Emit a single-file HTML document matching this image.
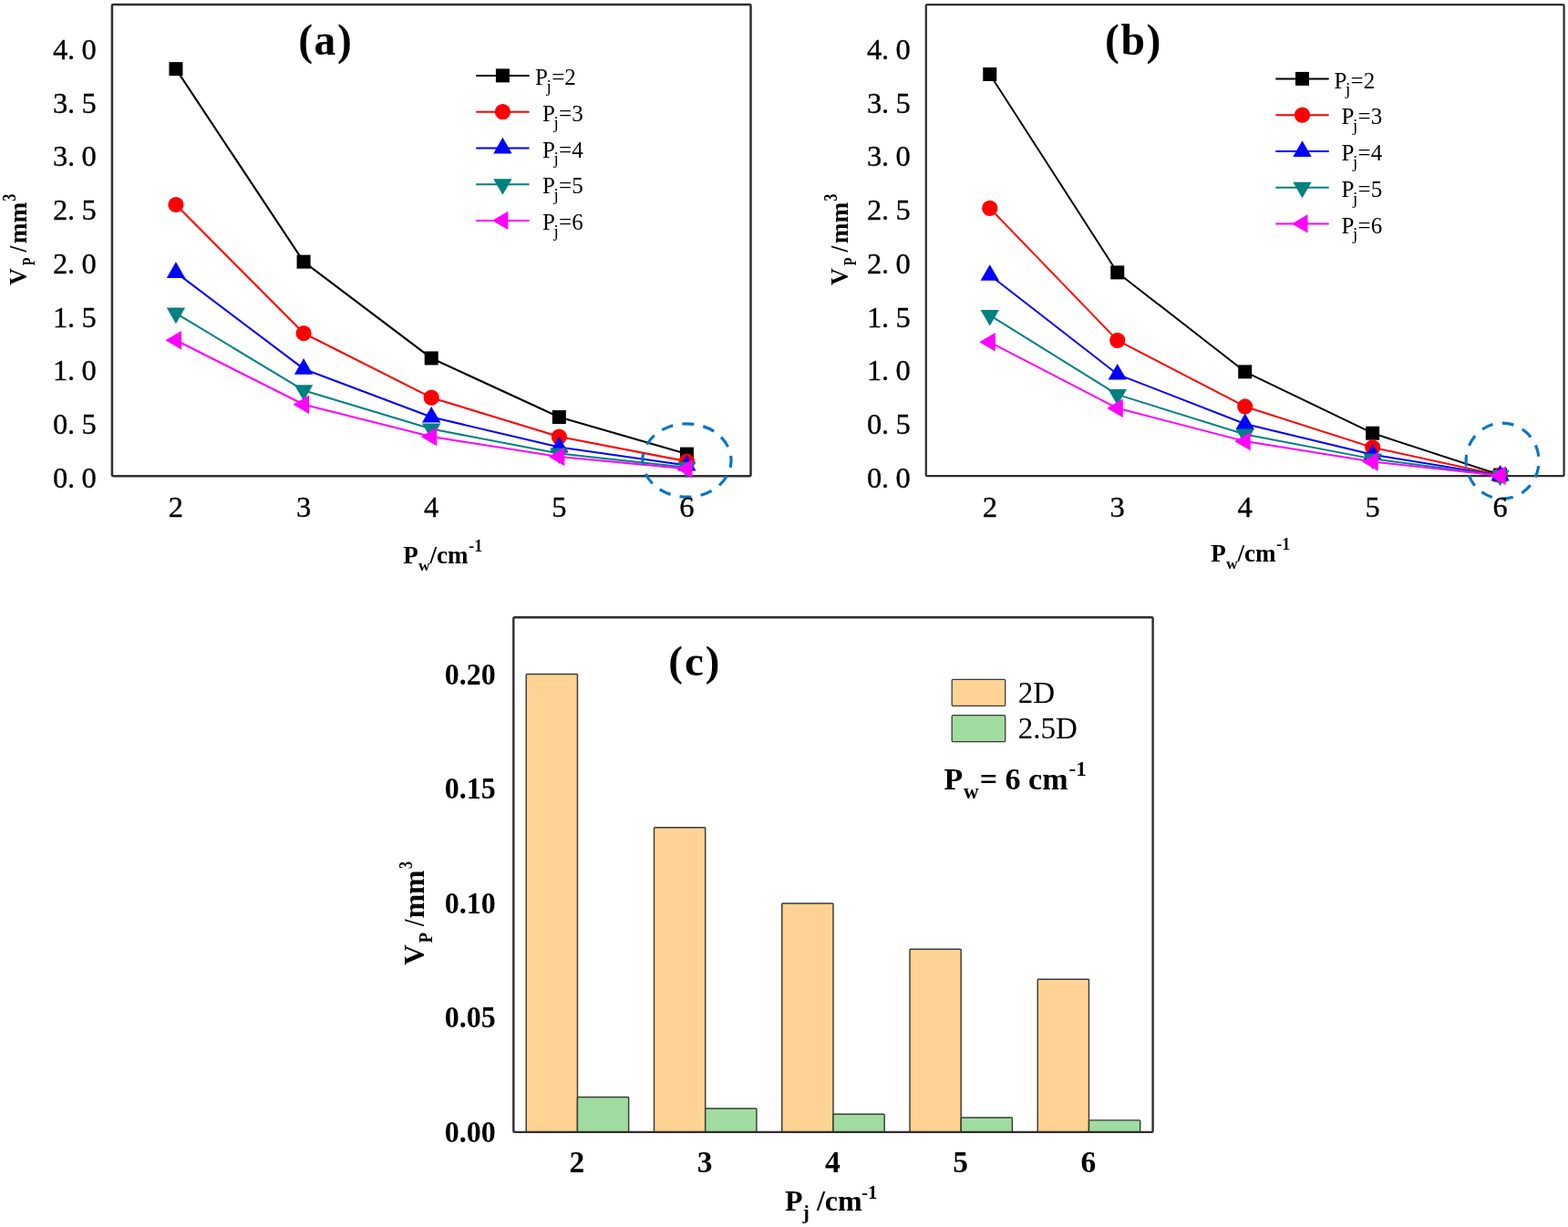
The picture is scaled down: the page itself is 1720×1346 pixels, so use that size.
<!DOCTYPE html>
<html lang="en">
<head>
<meta charset="utf-8">
<title>Figure: V_P versus P_w and P_j</title>
<style>
html, body { margin: 0; padding: 0; background: #fff; }
body { width: 1720px; height: 1346px; overflow: hidden; font-family: "Liberation Serif", serif; }
svg { display: block; }
</style>
</head>
<body>
<svg width="1720" height="1346" viewBox="0 0 1720 1346" role="img" aria-label="Pore volume versus P_w and P_j">
<rect width="1720" height="1346" fill="#fff"/>
<g id="panel-a">
<rect x="122.90" y="5.10" width="700.60" height="517.10" rx="1.2" fill="none" stroke="#2e2e2e" stroke-width="2.5" stroke-linejoin="round"/>
<polyline points="192.96,75.61 333.08,287.15 473.20,392.93 613.32,457.56 753.44,498.11" fill="none" stroke="#000000" stroke-width="2.1" stroke-linejoin="round"/>
<rect x="185.46" y="68.11" width="15.00" height="15.00" fill="#000000"/>
<rect x="325.58" y="279.65" width="15.00" height="15.00" fill="#000000"/>
<rect x="465.70" y="385.43" width="15.00" height="15.00" fill="#000000"/>
<rect x="605.82" y="450.06" width="15.00" height="15.00" fill="#000000"/>
<rect x="745.94" y="490.61" width="15.00" height="15.00" fill="#000000"/>
<polyline points="192.96,224.51 333.08,365.54 473.20,436.17 613.32,479.07 753.44,506.10" fill="none" stroke="#ff0000" stroke-width="2.1" stroke-linejoin="round"/>
<circle cx="192.96" cy="224.51" r="8.60" fill="#ff0000"/>
<circle cx="333.08" cy="365.54" r="8.60" fill="#ff0000"/>
<circle cx="473.20" cy="436.17" r="8.60" fill="#ff0000"/>
<circle cx="613.32" cy="479.07" r="8.60" fill="#ff0000"/>
<circle cx="753.44" cy="506.10" r="8.60" fill="#ff0000"/>
<polyline points="192.96,298.91 333.08,404.68 473.20,457.56 613.32,490.47 753.44,510.45" fill="none" stroke="#0000ff" stroke-width="2.1" stroke-linejoin="round"/>
<polygon points="192.96,287.31 203.16,304.91 182.76,304.91" fill="#0000ff"/>
<polygon points="333.08,393.08 343.28,410.68 322.88,410.68" fill="#0000ff"/>
<polygon points="473.20,445.96 483.40,463.56 463.00,463.56" fill="#0000ff"/>
<polygon points="613.32,478.87 623.52,496.47 603.12,496.47" fill="#0000ff"/>
<polygon points="753.44,498.85 763.64,516.45 743.24,516.45" fill="#0000ff"/>
<polyline points="192.96,343.57 333.08,428.18 473.20,470.49 613.32,497.52 753.44,512.80" fill="none" stroke="#008080" stroke-width="2.1" stroke-linejoin="round"/>
<polygon points="192.96,355.17 203.16,337.57 182.76,337.57" fill="#008080"/>
<polygon points="333.08,439.78 343.28,422.18 322.88,422.18" fill="#008080"/>
<polygon points="473.20,482.09 483.40,464.49 463.00,464.49" fill="#008080"/>
<polygon points="613.32,509.12 623.52,491.52 603.12,491.52" fill="#008080"/>
<polygon points="753.44,524.40 763.64,506.80 743.24,506.80" fill="#008080"/>
<polyline points="192.96,373.30 333.08,443.81 473.20,479.07 613.32,501.05 753.44,514.21" fill="none" stroke="#ff00ff" stroke-width="2.1" stroke-linejoin="round"/>
<polygon points="181.36,373.30 198.96,363.10 198.96,383.50" fill="#ff00ff"/>
<polygon points="321.48,443.81 339.08,433.61 339.08,454.01" fill="#ff00ff"/>
<polygon points="461.60,479.07 479.20,468.87 479.20,489.27" fill="#ff00ff"/>
<polygon points="601.72,501.05 619.32,490.85 619.32,511.25" fill="#ff00ff"/>
<polygon points="741.84,514.21 759.44,504.01 759.44,524.41" fill="#ff00ff"/>
<ellipse cx="753.4" cy="505.0" rx="48.6" ry="40.2" pathLength="120" fill="none" stroke="#0a74c4" stroke-width="3.2" stroke-dasharray="5.60 4.40" stroke-dashoffset="2.20"/>
<text x="66.10 78.10 97.60" y="534.90" font-family="&quot;Liberation Serif&quot;, serif" font-size="32.5" text-anchor="middle" fill="#000" stroke="#000" stroke-width="0.35">0.0</text>
<text x="66.10 78.10 97.60" y="476.14" font-family="&quot;Liberation Serif&quot;, serif" font-size="32.5" text-anchor="middle" fill="#000" stroke="#000" stroke-width="0.35">0.5</text>
<text x="66.10 78.10 97.60" y="417.38" font-family="&quot;Liberation Serif&quot;, serif" font-size="32.5" text-anchor="middle" fill="#000" stroke="#000" stroke-width="0.35">1.0</text>
<text x="66.10 78.10 97.60" y="358.62" font-family="&quot;Liberation Serif&quot;, serif" font-size="32.5" text-anchor="middle" fill="#000" stroke="#000" stroke-width="0.35">1.5</text>
<text x="66.10 78.10 97.60" y="299.85" font-family="&quot;Liberation Serif&quot;, serif" font-size="32.5" text-anchor="middle" fill="#000" stroke="#000" stroke-width="0.35">2.0</text>
<text x="66.10 78.10 97.60" y="241.09" font-family="&quot;Liberation Serif&quot;, serif" font-size="32.5" text-anchor="middle" fill="#000" stroke="#000" stroke-width="0.35">2.5</text>
<text x="66.10 78.10 97.60" y="182.33" font-family="&quot;Liberation Serif&quot;, serif" font-size="32.5" text-anchor="middle" fill="#000" stroke="#000" stroke-width="0.35">3.0</text>
<text x="66.10 78.10 97.60" y="123.57" font-family="&quot;Liberation Serif&quot;, serif" font-size="32.5" text-anchor="middle" fill="#000" stroke="#000" stroke-width="0.35">3.5</text>
<text x="66.10 78.10 97.60" y="64.81" font-family="&quot;Liberation Serif&quot;, serif" font-size="32.5" text-anchor="middle" fill="#000" stroke="#000" stroke-width="0.35">4.0</text>
<text x="192.96" y="566.90" font-family="&quot;Liberation Serif&quot;, serif" font-size="32.5" text-anchor="middle" fill="#000" stroke="#000" stroke-width="0.35">2</text>
<text x="333.08" y="566.90" font-family="&quot;Liberation Serif&quot;, serif" font-size="32.5" text-anchor="middle" fill="#000" stroke="#000" stroke-width="0.35">3</text>
<text x="473.20" y="566.90" font-family="&quot;Liberation Serif&quot;, serif" font-size="32.5" text-anchor="middle" fill="#000" stroke="#000" stroke-width="0.35">4</text>
<text x="613.32" y="566.90" font-family="&quot;Liberation Serif&quot;, serif" font-size="32.5" text-anchor="middle" fill="#000" stroke="#000" stroke-width="0.35">5</text>
<text x="753.44" y="566.90" font-family="&quot;Liberation Serif&quot;, serif" font-size="32.5" text-anchor="middle" fill="#000" stroke="#000" stroke-width="0.35">6</text>
<text x="357.30" y="59.9" font-family="&quot;Liberation Serif&quot;, serif" font-size="47.5" font-weight="bold" letter-spacing="1.6" text-anchor="middle">(a)</text>
<line x1="522.1999999999999" y1="82.90" x2="580.6" y2="82.90" stroke="#000000" stroke-width="2.0"/>
<rect x="543.90" y="75.40" width="15.00" height="15.00" fill="#000000"/>
<text x="587.00" y="93.20" font-family="&quot;Liberation Serif&quot;, serif" font-size="25">P<tspan dy="7.6" dx="-1.3" font-size="19">j</tspan><tspan dy="-7.6" dx="0.3">=2</tspan></text>
<line x1="522.1999999999999" y1="122.65" x2="580.6" y2="122.65" stroke="#ff0000" stroke-width="2.0"/>
<circle cx="551.40" cy="122.65" r="8.60" fill="#ff0000"/>
<text x="594.90" y="132.95" font-family="&quot;Liberation Serif&quot;, serif" font-size="25">P<tspan dy="7.6" dx="-1.3" font-size="19">j</tspan><tspan dy="-7.6" dx="0.3">=3</tspan></text>
<line x1="522.1999999999999" y1="162.40" x2="580.6" y2="162.40" stroke="#0000ff" stroke-width="2.0"/>
<polygon points="551.40,150.80 561.60,168.40 541.20,168.40" fill="#0000ff"/>
<text x="594.90" y="172.70" font-family="&quot;Liberation Serif&quot;, serif" font-size="25">P<tspan dy="7.6" dx="-1.3" font-size="19">j</tspan><tspan dy="-7.6" dx="0.3">=4</tspan></text>
<line x1="522.1999999999999" y1="202.15" x2="580.6" y2="202.15" stroke="#008080" stroke-width="2.0"/>
<polygon points="551.40,213.75 561.60,196.15 541.20,196.15" fill="#008080"/>
<text x="594.90" y="212.45" font-family="&quot;Liberation Serif&quot;, serif" font-size="25">P<tspan dy="7.6" dx="-1.3" font-size="19">j</tspan><tspan dy="-7.6" dx="0.3">=5</tspan></text>
<line x1="522.1999999999999" y1="241.90" x2="580.6" y2="241.90" stroke="#ff00ff" stroke-width="2.0"/>
<polygon points="539.80,241.90 557.40,231.70 557.40,252.10" fill="#ff00ff"/>
<text x="594.90" y="252.20" font-family="&quot;Liberation Serif&quot;, serif" font-size="25">P<tspan dy="7.6" dx="-1.3" font-size="19">j</tspan><tspan dy="-7.6" dx="0.3">=6</tspan></text>
<g transform="translate(29.0,312.75) rotate(-90)" font-family="&quot;Liberation Serif&quot;, serif" font-weight="bold"><text transform="translate(-0.29,0) scale(0.97,1)" font-size="27">V</text><text transform="translate(21.56,9.3) scale(0.74,1)" font-size="19">P</text><text transform="translate(36.34,0) scale(0.9,1)" font-size="27">/</text><text transform="translate(45.56,0) scale(1.0,1)" font-size="27.3">mm</text><text transform="translate(92.09,-11.6) scale(0.8,1)" font-size="20">3</text></g>
<text x="442.3" y="618.4" font-family="&quot;Liberation Serif&quot;, serif" font-size="27" font-weight="bold">P<tspan dy="7.8" dx="0.3" font-size="17.5">w</tspan><tspan dy="-7.8" dx="-0.2">/cm</tspan><tspan dy="-13.4" dx="0.8" font-size="18">-1</tspan></text>
</g>
<g id="panel-b">
<rect x="1015.80" y="5.10" width="699.80" height="517.10" rx="1.2" fill="none" stroke="#2e2e2e" stroke-width="2.25" stroke-linejoin="round"/>
<polyline points="1085.78,81.49 1225.74,298.91 1365.70,407.85 1505.66,475.19 1645.62,521.02" fill="none" stroke="#000000" stroke-width="1.95" stroke-linejoin="round"/>
<rect x="1078.28" y="73.99" width="15.00" height="15.00" fill="#000000"/>
<rect x="1218.24" y="291.41" width="15.00" height="15.00" fill="#000000"/>
<rect x="1358.20" y="400.35" width="15.00" height="15.00" fill="#000000"/>
<rect x="1498.16" y="467.69" width="15.00" height="15.00" fill="#000000"/>
<rect x="1638.12" y="513.52" width="15.00" height="15.00" fill="#000000"/>
<polyline points="1085.78,228.39 1225.74,373.34 1365.70,445.97 1505.66,490.86 1645.62,521.42" fill="none" stroke="#ff0000" stroke-width="1.95" stroke-linejoin="round"/>
<circle cx="1085.78" cy="228.39" r="8.60" fill="#ff0000"/>
<circle cx="1225.74" cy="373.34" r="8.60" fill="#ff0000"/>
<circle cx="1365.70" cy="445.97" r="8.60" fill="#ff0000"/>
<circle cx="1505.66" cy="490.86" r="8.60" fill="#ff0000"/>
<circle cx="1645.62" cy="521.42" r="8.60" fill="#ff0000"/>
<polyline points="1085.78,301.84 1225.74,410.55 1365.70,465.03 1505.66,498.70 1645.62,521.61" fill="none" stroke="#0000ff" stroke-width="1.95" stroke-linejoin="round"/>
<polygon points="1085.78,290.24 1095.98,307.84 1075.58,307.84" fill="#0000ff"/>
<polygon points="1225.74,398.95 1235.94,416.55 1215.54,416.55" fill="#0000ff"/>
<polygon points="1365.70,453.43 1375.90,471.03 1355.50,471.03" fill="#0000ff"/>
<polygon points="1505.66,487.10 1515.86,504.70 1495.46,504.70" fill="#0000ff"/>
<polygon points="1645.62,510.01 1655.82,527.61 1635.42,527.61" fill="#0000ff"/>
<polyline points="1085.78,345.92 1225.74,432.88 1365.70,476.46 1505.66,503.40 1645.62,521.73" fill="none" stroke="#008080" stroke-width="1.95" stroke-linejoin="round"/>
<polygon points="1085.78,357.52 1095.98,339.92 1075.58,339.92" fill="#008080"/>
<polygon points="1225.74,444.48 1235.94,426.88 1215.54,426.88" fill="#008080"/>
<polygon points="1365.70,488.06 1375.90,470.46 1355.50,470.46" fill="#008080"/>
<polygon points="1505.66,515.00 1515.86,497.40 1495.46,497.40" fill="#008080"/>
<polygon points="1645.62,533.33 1655.82,515.73 1635.42,515.73" fill="#008080"/>
<polyline points="1085.78,375.30 1225.74,447.77 1365.70,484.08 1505.66,506.53 1645.62,521.81" fill="none" stroke="#ff00ff" stroke-width="1.95" stroke-linejoin="round"/>
<polygon points="1074.18,375.30 1091.78,365.10 1091.78,385.50" fill="#ff00ff"/>
<polygon points="1214.14,447.77 1231.74,437.57 1231.74,457.97" fill="#ff00ff"/>
<polygon points="1354.10,484.08 1371.70,473.88 1371.70,494.28" fill="#ff00ff"/>
<polygon points="1494.06,506.53 1511.66,496.33 1511.66,516.73" fill="#ff00ff"/>
<polygon points="1634.02,521.81 1651.62,511.61 1651.62,532.01" fill="#ff00ff"/>
<ellipse cx="1648.1" cy="505.6" rx="40" ry="41.5" pathLength="110" fill="none" stroke="#0a74c4" stroke-width="3.2" stroke-dasharray="5.50 4.50" stroke-dashoffset="7.60"/>
<text x="959.00 971.00 990.50" y="534.90" font-family="&quot;Liberation Serif&quot;, serif" font-size="32.5" text-anchor="middle" fill="#000" stroke="#000" stroke-width="0.35">0.0</text>
<text x="959.00 971.00 990.50" y="476.14" font-family="&quot;Liberation Serif&quot;, serif" font-size="32.5" text-anchor="middle" fill="#000" stroke="#000" stroke-width="0.35">0.5</text>
<text x="959.00 971.00 990.50" y="417.38" font-family="&quot;Liberation Serif&quot;, serif" font-size="32.5" text-anchor="middle" fill="#000" stroke="#000" stroke-width="0.35">1.0</text>
<text x="959.00 971.00 990.50" y="358.62" font-family="&quot;Liberation Serif&quot;, serif" font-size="32.5" text-anchor="middle" fill="#000" stroke="#000" stroke-width="0.35">1.5</text>
<text x="959.00 971.00 990.50" y="299.85" font-family="&quot;Liberation Serif&quot;, serif" font-size="32.5" text-anchor="middle" fill="#000" stroke="#000" stroke-width="0.35">2.0</text>
<text x="959.00 971.00 990.50" y="241.09" font-family="&quot;Liberation Serif&quot;, serif" font-size="32.5" text-anchor="middle" fill="#000" stroke="#000" stroke-width="0.35">2.5</text>
<text x="959.00 971.00 990.50" y="182.33" font-family="&quot;Liberation Serif&quot;, serif" font-size="32.5" text-anchor="middle" fill="#000" stroke="#000" stroke-width="0.35">3.0</text>
<text x="959.00 971.00 990.50" y="123.57" font-family="&quot;Liberation Serif&quot;, serif" font-size="32.5" text-anchor="middle" fill="#000" stroke="#000" stroke-width="0.35">3.5</text>
<text x="959.00 971.00 990.50" y="64.81" font-family="&quot;Liberation Serif&quot;, serif" font-size="32.5" text-anchor="middle" fill="#000" stroke="#000" stroke-width="0.35">4.0</text>
<text x="1085.78" y="566.90" font-family="&quot;Liberation Serif&quot;, serif" font-size="32.5" text-anchor="middle" fill="#000" stroke="#000" stroke-width="0.35">2</text>
<text x="1225.74" y="566.90" font-family="&quot;Liberation Serif&quot;, serif" font-size="32.5" text-anchor="middle" fill="#000" stroke="#000" stroke-width="0.35">3</text>
<text x="1365.70" y="566.90" font-family="&quot;Liberation Serif&quot;, serif" font-size="32.5" text-anchor="middle" fill="#000" stroke="#000" stroke-width="0.35">4</text>
<text x="1505.66" y="566.90" font-family="&quot;Liberation Serif&quot;, serif" font-size="32.5" text-anchor="middle" fill="#000" stroke="#000" stroke-width="0.35">5</text>
<text x="1645.62" y="566.90" font-family="&quot;Liberation Serif&quot;, serif" font-size="32.5" text-anchor="middle" fill="#000" stroke="#000" stroke-width="0.35">6</text>
<text x="1243.40" y="59.9" font-family="&quot;Liberation Serif&quot;, serif" font-size="47.5" font-weight="bold" letter-spacing="1.6" text-anchor="middle">(b)</text>
<line x1="1399.3" y1="86.40" x2="1457.7" y2="86.40" stroke="#000000" stroke-width="2.0"/>
<rect x="1421.00" y="78.90" width="15.00" height="15.00" fill="#000000"/>
<text x="1463.40" y="96.70" font-family="&quot;Liberation Serif&quot;, serif" font-size="25">P<tspan dy="7.6" dx="-1.3" font-size="19">j</tspan><tspan dy="-7.6" dx="0.3">=2</tspan></text>
<line x1="1399.3" y1="126.15" x2="1457.7" y2="126.15" stroke="#ff0000" stroke-width="2.0"/>
<circle cx="1428.50" cy="126.15" r="8.60" fill="#ff0000"/>
<text x="1471.40" y="136.45" font-family="&quot;Liberation Serif&quot;, serif" font-size="25">P<tspan dy="7.6" dx="-1.3" font-size="19">j</tspan><tspan dy="-7.6" dx="0.3">=3</tspan></text>
<line x1="1399.3" y1="165.90" x2="1457.7" y2="165.90" stroke="#0000ff" stroke-width="2.0"/>
<polygon points="1428.50,154.30 1438.70,171.90 1418.30,171.90" fill="#0000ff"/>
<text x="1471.40" y="176.20" font-family="&quot;Liberation Serif&quot;, serif" font-size="25">P<tspan dy="7.6" dx="-1.3" font-size="19">j</tspan><tspan dy="-7.6" dx="0.3">=4</tspan></text>
<line x1="1399.3" y1="205.65" x2="1457.7" y2="205.65" stroke="#008080" stroke-width="2.0"/>
<polygon points="1428.50,217.25 1438.70,199.65 1418.30,199.65" fill="#008080"/>
<text x="1471.40" y="215.95" font-family="&quot;Liberation Serif&quot;, serif" font-size="25">P<tspan dy="7.6" dx="-1.3" font-size="19">j</tspan><tspan dy="-7.6" dx="0.3">=5</tspan></text>
<line x1="1399.3" y1="245.40" x2="1457.7" y2="245.40" stroke="#ff00ff" stroke-width="2.0"/>
<polygon points="1416.90,245.40 1434.50,235.20 1434.50,255.60" fill="#ff00ff"/>
<text x="1471.40" y="255.70" font-family="&quot;Liberation Serif&quot;, serif" font-size="25">P<tspan dy="7.6" dx="-1.3" font-size="19">j</tspan><tspan dy="-7.6" dx="0.3">=6</tspan></text>
<g transform="translate(930,312.75) rotate(-90)" font-family="&quot;Liberation Serif&quot;, serif" font-weight="bold"><text transform="translate(-0.29,0) scale(0.97,1)" font-size="27">V</text><text transform="translate(21.56,9.3) scale(0.74,1)" font-size="19">P</text><text transform="translate(36.34,0) scale(0.9,1)" font-size="27">/</text><text transform="translate(45.56,0) scale(1.0,1)" font-size="27.3">mm</text><text transform="translate(92.09,-11.6) scale(0.8,1)" font-size="20">3</text></g>
<text x="1328.3" y="616.3" font-family="&quot;Liberation Serif&quot;, serif" font-size="27" font-weight="bold">P<tspan dy="7.8" dx="0.3" font-size="17.5">w</tspan><tspan dy="-7.8" dx="-0.2">/cm</tspan><tspan dy="-13.4" dx="0.8" font-size="18">-1</tspan></text>
</g>
<g id="panel-c">
<rect x="577.23" y="739.53" width="56.20" height="502.37" rx="0.8" fill="#ffd394" stroke="#3a3a3a" stroke-width="1.45"/>
<rect x="633.43" y="1203.51" width="56.20" height="38.39" rx="0.8" fill="#a0dca0" stroke="#3a3a3a" stroke-width="1.45"/>
<rect x="717.49" y="907.66" width="56.20" height="334.24" rx="0.8" fill="#ffd394" stroke="#3a3a3a" stroke-width="1.45"/>
<rect x="773.69" y="1216.05" width="56.20" height="25.85" rx="0.8" fill="#a0dca0" stroke="#3a3a3a" stroke-width="1.45"/>
<rect x="857.75" y="990.97" width="56.20" height="250.93" rx="0.8" fill="#ffd394" stroke="#3a3a3a" stroke-width="1.45"/>
<rect x="913.95" y="1222.33" width="56.20" height="19.57" rx="0.8" fill="#a0dca0" stroke="#3a3a3a" stroke-width="1.45"/>
<rect x="998.01" y="1041.15" width="56.20" height="200.75" rx="0.8" fill="#ffd394" stroke="#3a3a3a" stroke-width="1.45"/>
<rect x="1054.21" y="1226.09" width="56.20" height="15.81" rx="0.8" fill="#a0dca0" stroke="#3a3a3a" stroke-width="1.45"/>
<rect x="1138.27" y="1074.28" width="56.20" height="167.62" rx="0.8" fill="#ffd394" stroke="#3a3a3a" stroke-width="1.45"/>
<rect x="1194.47" y="1228.85" width="56.20" height="13.05" rx="0.8" fill="#a0dca0" stroke="#3a3a3a" stroke-width="1.45"/>
<rect x="563.30" y="677.30" width="701.30" height="564.60" rx="1.2" fill="none" stroke="#2e2e2e" stroke-width="2.4" stroke-linejoin="round"/>
<text x="487.8" y="1252.50" font-family="&quot;Liberation Serif&quot;, serif" font-size="33.5" font-weight="bold" textLength="56" lengthAdjust="spacingAndGlyphs">0.00</text>
<text x="487.8" y="1127.03" font-family="&quot;Liberation Serif&quot;, serif" font-size="33.5" font-weight="bold" textLength="56" lengthAdjust="spacingAndGlyphs">0.05</text>
<text x="487.8" y="1001.57" font-family="&quot;Liberation Serif&quot;, serif" font-size="33.5" font-weight="bold" textLength="56" lengthAdjust="spacingAndGlyphs">0.10</text>
<text x="487.8" y="876.10" font-family="&quot;Liberation Serif&quot;, serif" font-size="33.5" font-weight="bold" textLength="56" lengthAdjust="spacingAndGlyphs">0.15</text>
<text x="487.8" y="750.63" font-family="&quot;Liberation Serif&quot;, serif" font-size="33.5" font-weight="bold" textLength="56" lengthAdjust="spacingAndGlyphs">0.20</text>
<text x="632.83" y="1285.7" font-family="&quot;Liberation Serif&quot;, serif" font-size="33.5" font-weight="bold" text-anchor="middle">2</text>
<text x="773.09" y="1285.7" font-family="&quot;Liberation Serif&quot;, serif" font-size="33.5" font-weight="bold" text-anchor="middle">3</text>
<text x="913.35" y="1285.7" font-family="&quot;Liberation Serif&quot;, serif" font-size="33.5" font-weight="bold" text-anchor="middle">4</text>
<text x="1053.61" y="1285.7" font-family="&quot;Liberation Serif&quot;, serif" font-size="33.5" font-weight="bold" text-anchor="middle">5</text>
<text x="1193.87" y="1285.7" font-family="&quot;Liberation Serif&quot;, serif" font-size="33.5" font-weight="bold" text-anchor="middle">6</text>
<text x="762.40" y="740.9" font-family="&quot;Liberation Serif&quot;, serif" font-size="47" font-weight="bold" letter-spacing="2.0" text-anchor="middle">(c)</text>
<rect x="1044.2" y="745.3" width="58.5" height="29" rx="1.2" fill="#ffd394" stroke="#3a3a3a" stroke-width="1.3"/>
<rect x="1044.2" y="784.6" width="58.5" height="29" rx="1.2" fill="#a0dca0" stroke="#3a3a3a" stroke-width="1.3"/>
<text x="1116.8" y="770.7" font-family="&quot;Liberation Serif&quot;, serif" font-size="33">2D</text>
<text x="1116.8" y="810.4" font-family="&quot;Liberation Serif&quot;, serif" font-size="33">2.5D</text>
<text x="1035.6" y="866" font-family="&quot;Liberation Serif&quot;, serif" font-size="34" font-weight="bold">P<tspan dy="10" dx="0.5" font-size="23">w</tspan><tspan dy="-10" dx="1.2">= 6 cm</tspan><tspan dy="-15.5" dx="1" font-size="23">-1</tspan></text>
<g transform="translate(464.8,1058.4) rotate(-90)" font-family="&quot;Liberation Serif&quot;, serif" font-weight="bold"><text transform="translate(-0.34,0) scale(0.99,1)" font-size="31.5">V</text><text transform="translate(24.09,9.4) scale(0.86,1)" font-size="21.5">P</text><text transform="translate(42.37,0) scale(0.84,1)" font-size="32">/</text><text transform="translate(51.14,0) scale(0.99,1)" font-size="32">mm</text><text transform="translate(105.49,-12.4) scale(0.75,1)" font-size="21.5">3</text></g>
<text x="861" y="1328.2" font-family="&quot;Liberation Serif&quot;, serif" font-size="32" font-weight="bold">P<tspan dy="9" font-size="22">j</tspan><tspan dy="-9"> /cm</tspan><tspan dy="-13.5" dx="-0.6" font-size="21">-1</tspan></text>
</g>
</svg>
</body>
</html>
